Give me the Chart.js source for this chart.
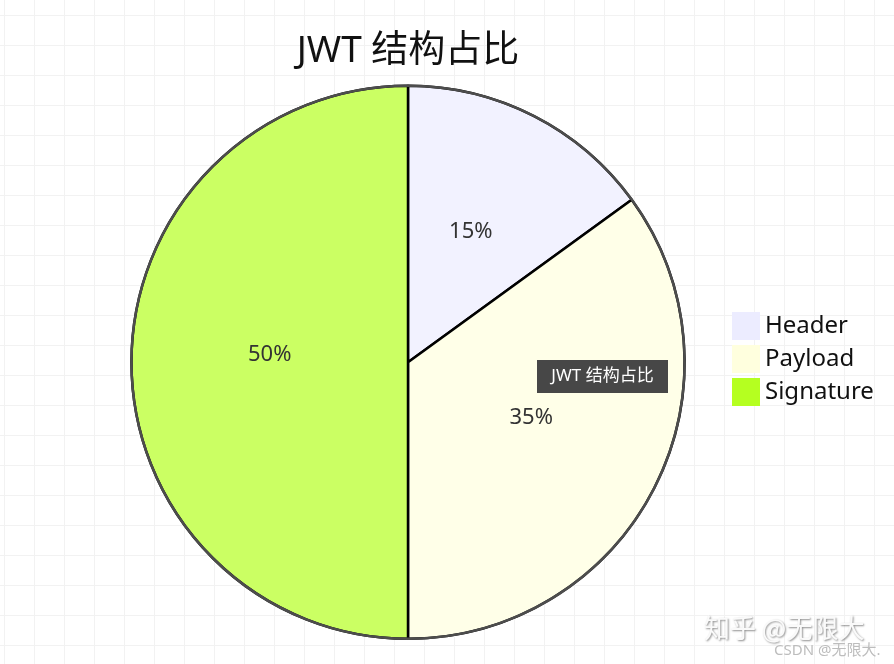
<!DOCTYPE html>
<html>
<head>
<meta charset="utf-8">
<script src="https://cdn.jsdelivr.net/npm/chart.js@4/dist/chart.umd.min.js"></script>
<style>
  html, body { margin: 0; padding: 0; background: #fff; }
  #wrap { position: relative; width: 894px; height: 664px; }
</style>
</head>
<body>
<div id="wrap"><canvas id="jwtChart" width="894" height="664"></canvas></div>
<script>
const FONT = '"Noto Sans", "Noto Sans CJK SC", sans-serif';

const chartTitle = 'JWT 结构占比';
const labels = ['Header', 'Payload', 'Signature'];
const values = [15, 35, 50];
const sliceColors = ['#F2F2FF', '#FFFFE8', '#CBFF63'];
const legendColors = ['#ECECFF', '#FFFFDE', '#B5FF20'];

// light grid paper behind the chart
const gridBackground = {
  id: 'gridBackground',
  beforeDraw(chart) {
    const ctx = chart.ctx;
    ctx.save();
    ctx.fillStyle = '#fff';
    ctx.fillRect(0, 0, chart.width, chart.height);
    ctx.strokeStyle = '#f2f2f2';
    ctx.lineWidth = 1;
    ctx.beginPath();
    for (let x = 4.5; x < chart.width; x += 30) {
      ctx.moveTo(x, 0); ctx.lineTo(x, chart.height);
    }
    for (let y = 15.5; y < chart.height; y += 30) {
      ctx.moveTo(0, y); ctx.lineTo(chart.width, y);
    }
    ctx.stroke();
    ctx.restore();
  }
};

// outer ring, percent labels, legend, hover box, watermark
const extras = {
  id: 'extras',
  afterDraw(chart) {
    const ctx = chart.ctx;
    const arcs = chart.getDatasetMeta(0).data;
    const total = values.reduce((a, b) => a + b, 0);
    ctx.save();

    const a0 = arcs[0];
    ctx.beginPath();
    ctx.arc(a0.x, a0.y, a0.outerRadius, 0, Math.PI * 2);
    ctx.strokeStyle = '#4d4d4d';
    ctx.lineWidth = 2.5;
    ctx.stroke();

    ctx.font = '22px ' + FONT;
    ctx.fillStyle = '#333';
    ctx.textAlign = 'center';
    ctx.textBaseline = 'middle';
    arcs.forEach((arc, i) => {
      const p = arc.tooltipPosition();
      ctx.fillText(Math.round(values[i] / total * 100) + '%', p.x, p.y - 7);
    });

    ctx.textAlign = 'left';
    ctx.font = '24px ' + FONT;
    labels.forEach((lab, i) => {
      const y = 312 + i * 33;
      ctx.fillStyle = legendColors[i];
      ctx.fillRect(732, y, 28, 28);
      ctx.fillStyle = '#111';
      ctx.fillText(lab, 765, y + 14);
    });

    ctx.fillStyle = '#474747';
    ctx.fillRect(537, 360, 131, 33);
    ctx.fillStyle = '#fff';
    ctx.font = '17px ' + FONT;
    ctx.textAlign = 'center';
    ctx.fillText(chartTitle, 602.5, 376.5);

    ctx.textAlign = 'left';
    ctx.font = '26px "Noto Sans CJK SC", sans-serif';
    ctx.shadowColor = 'rgba(0,0,0,0.45)';
    ctx.shadowBlur = 2;
    ctx.shadowOffsetX = 1;
    ctx.shadowOffsetY = 1;
    ctx.fillStyle = '#fafafa';
    ctx.fillText('知乎 @无限大', 704, 628);
    ctx.shadowColor = 'rgba(0,0,0,0)';
    ctx.fillStyle = '#bdbdbd';
    ctx.font = '15px ' + FONT;
    ctx.fillText('CSDN @无限大.', 774, 651);
    ctx.restore();
  }
};

new Chart(document.getElementById('jwtChart'), {
  type: 'pie',
  data: {
    labels: labels,
    datasets: [{
      data: values,
      backgroundColor: sliceColors,
      borderColor: '#000',
      borderWidth: 2.5,
      hoverOffset: 0
    }]
  },
  options: {
    responsive: false,
    animation: false,
    events: [],
    layout: { padding: { left: 130, right: 208, top: 0, bottom: 24 } },
    plugins: {
      legend: { display: false },
      tooltip: { enabled: false },
      title: {
        display: true,
        text: chartTitle,
        color: '#111',
        font: { family: FONT, size: 37, weight: 'normal', lineHeight: 1.2 },
        padding: { top: 29, bottom: 11 }
      }
    }
  },
  plugins: [gridBackground, extras]
});
</script>
</body>
</html>
